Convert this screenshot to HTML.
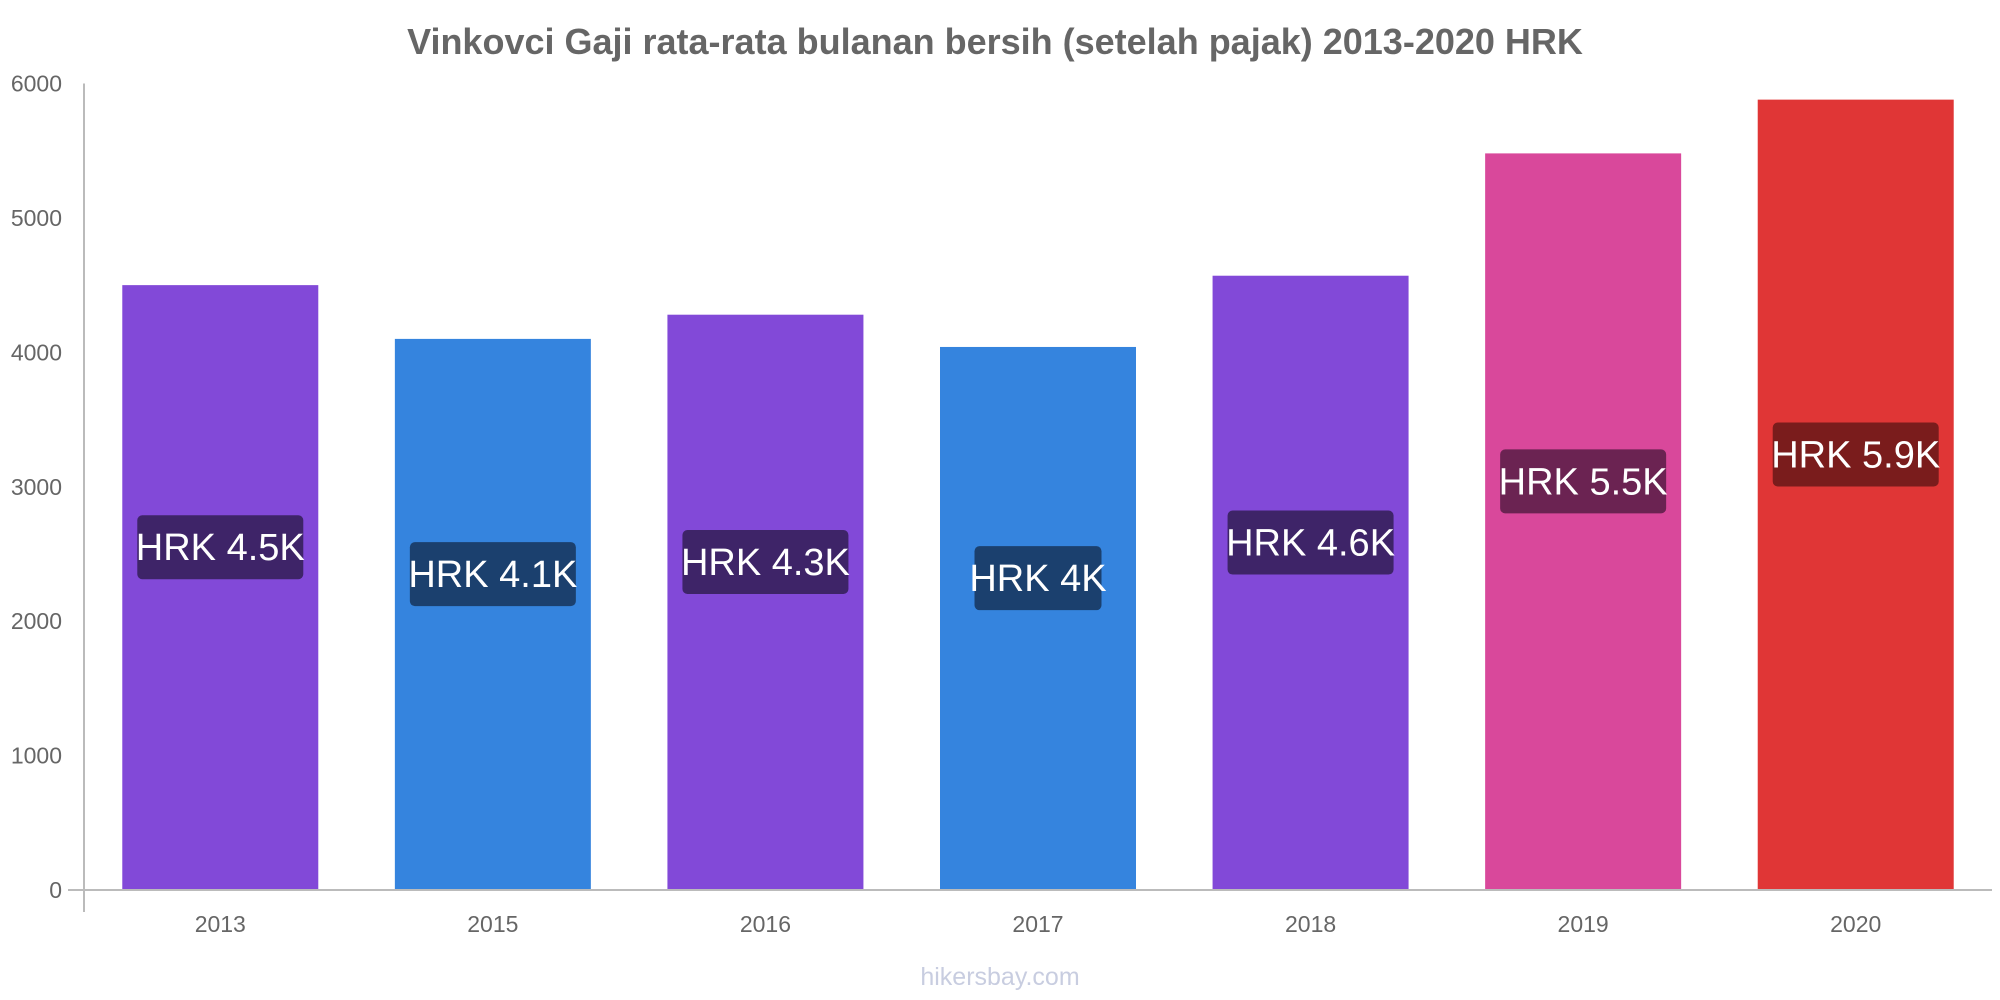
<!DOCTYPE html>
<html><head><meta charset="utf-8"><style>
html,body{margin:0;padding:0;background:#fff;}
svg{display:block;font-family:"Liberation Sans",sans-serif;}
</style></head><body>
<svg id="chart" width="2000" height="1000">
<text x="995" y="54" text-anchor="middle" font-size="36" font-weight="bold" fill="#666">Vinkovci Gaji rata-rata bulanan bersih (setelah pajak) 2013-2020 HRK</text>
<g id="yaxis"></g>
<g id="bars"></g>
<g id="xaxis"></g>
<text x="1000" y="985" text-anchor="middle" font-size="25" fill="#c8cde0">hikersbay.com</text>
</svg>
<script>
const categories = ["2013","2015","2016","2017","2018","2019","2020"];
const values = [4500,4100,4280,4040,4570,5480,5880];
const valueLabels = ["HRK 4.5K","HRK 4.1K","HRK 4.3K","HRK 4K","HRK 4.6K","HRK 5.5K","HRK 5.9K"];
const barColors = ["#8249d8","#3584de","#8249d8","#3584de","#8249d8","#d9489b","#e03636"];
const labelColors = ["#3e2468","#1b406e","#3e2468","#1b406e","#3e2468","#6b2352","#7a1c1c"];
const yTicks = [0,1000,2000,3000,4000,5000,6000];

const NS="http://www.w3.org/2000/svg";
const x0=84, x1=1992, y0=890, yTop=83.5, yMax=6000;
const band=(x1-x0)/categories.length, barW=196;
const ys=v=>y0-(y0-yTop)*v/yMax;
const xc=i=>x0+band*(i+0.5);
function mk(tag,attrs,parent){const e=document.createElementNS(NS,tag);for(const k in attrs)e.setAttribute(k,attrs[k]);parent.appendChild(e);return e;}
const ya=document.getElementById('yaxis'), bg=document.getElementById('bars'), xa=document.getElementById('xaxis');
let l=mk('line',{x1:x0,y1:yTop,x2:x0,y2:y0+22,stroke:'#bbb','stroke-width':2},ya);


l=mk('line',{x1:x0-16,y1:y0,x2:x1,y2:y0,stroke:'#bbb','stroke-width':2},xa);


yTicks.forEach(t=>{
  const tx=mk('text',{x:62,y:ys(t)+8,'text-anchor':'end','font-size':23,fill:'#666'},ya);
  tx.textContent=t;
  
  
});
categories.forEach((c,i)=>{
  const r=mk('rect',{x:xc(i)-barW/2,y:ys(values[i]),width:barW,height:y0-ys(values[i]),fill:barColors[i]},bg);
  
  
  const ly=ys(values[i]/2+300);
  const tw=valueLabels[i].length*19.5+10;
  const lb=mk('rect',{x:xc(i)-tw/2,y:ly-32,width:tw,height:64,rx:5,fill:labelColors[i]},bg);
  
  
  const lt=mk('text',{x:xc(i),y:ly+13,'text-anchor':'middle','font-size':38,fill:'#fff'},bg);
  lt.textContent=valueLabels[i];
  
  
  const xt=mk('text',{x:xc(i),y:932,'text-anchor':'middle','font-size':23,fill:'#666'},xa);
  xt.textContent=c;
  
  
});
</script>
</body></html>
